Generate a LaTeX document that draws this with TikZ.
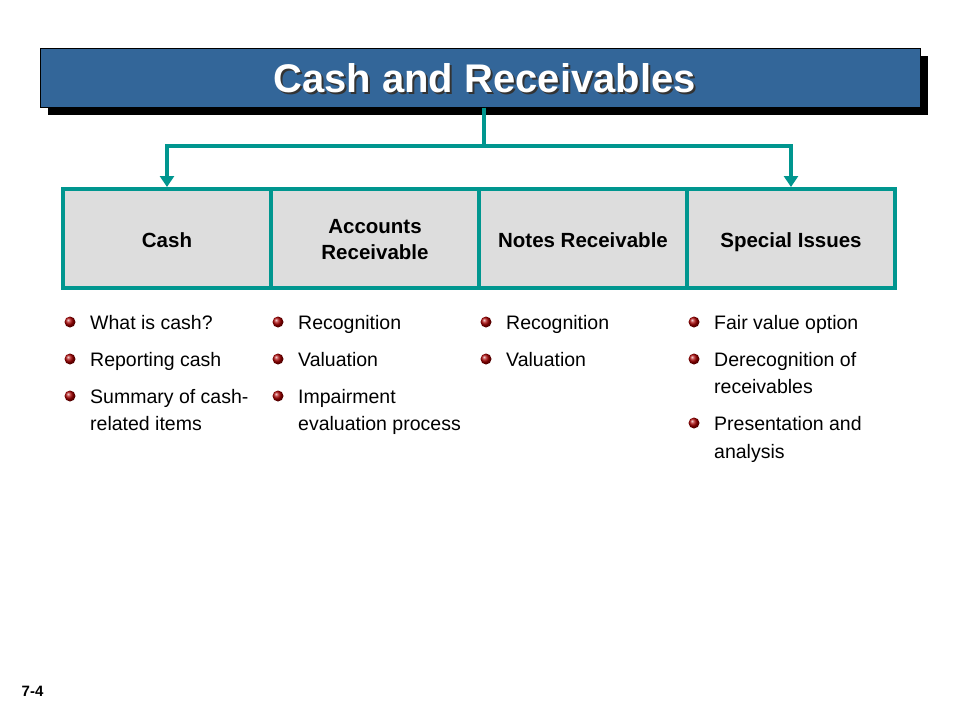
\documentclass[tikz,border=0pt]{standalone}
\usepackage{fontspec}
\setmainfont{Liberation Sans}
\usetikzlibrary{arrows.meta,shadings}
\definecolor{titleblue}{RGB}{51,102,153}
\definecolor{teal}{RGB}{0,150,143}
\definecolor{boxgray}{RGB}{221,221,221}
\definecolor{ballred}{RGB}{170,0,0}
\tikzset{
  catbox/.style={draw=teal,line width=4pt,fill=boxgray,minimum width=208pt,minimum height=99pt,inner sep=0pt,
    font=\fontsize{20.5}{25}\selectfont\bfseries,align=center,text=black,text height=22pt,text depth=4.5pt},
  conn/.style={draw=teal,line width=4pt},
  arr/.style={conn,-{Triangle[width=14pt,length=11pt]}},
  itemtext/.style={anchor=base west,inner sep=0pt,font=\fontsize{19.5}{27.5}\selectfont,text=black},
}
\newcommand\myball[2]{\shade[ball color=ballred] (#1,#2) circle (5.5);}
\begin{document}
\begin{tikzpicture}[x=1pt,y=-1pt]
\useasboundingbox[fill=white] (0,0) rectangle (960,720);
% title
\fill[black] (48,56) rectangle (928,115);
\node[draw=black,line width=1pt,fill=titleblue,minimum width=880pt,minimum height=59pt,inner sep=0pt] (title) at (480,77.5) {};
\node[text=black!80,font=\fontsize{40}{48}\selectfont\bfseries] at (486.5,80) {Cash and Receivables};
\node[text=white,font=\fontsize{40}{48}\selectfont\bfseries] (titletext) at (484.5,78) {Cash and Receivables};
% boxes
\node[catbox] (cash) at (167,238.5) {Cash};
\node[catbox,text height=47pt] (acc) at (375,238.5) {Accounts\\[1.5pt]Receivable};
\node[catbox] (notes) at (583,238.5) {Notes Receivable};
\node[catbox] (spec) at (791,238.5) {Special Issues};
% connectors
\coordinate (tp) at ([xshift=4pt]title.south);
\coordinate (mid) at ([yshift=-38pt]tp);
\draw[conn] (tp) -- (mid);
\draw[arr] (mid) -| (cash.north);
\draw[arr] (mid) -| (spec.north);
% column 1
\myball{70}{322}\node[itemtext] (c1a) at (90,329) {What is cash?};
\myball{70}{359}\node[itemtext] (c1b) at (90,366) {Reporting cash};
\myball{70}{396}\node[itemtext] (c1c) at (90,403) {Summary of cash-};
\node[itemtext] (c1d) at (90,430.5) {related items};
% column 2
\myball{278}{322}\node[itemtext] (c2a) at (298,329) {Recognition};
\myball{278}{359}\node[itemtext] (c2b) at (298,366) {Valuation};
\myball{278}{396}\node[itemtext] (c2c) at (298,403) {Impairment};
\node[itemtext] (c2d) at (298,430.5) {evaluation process};
% column 3
\myball{486}{322}\node[itemtext] (c3a) at (506,329) {Recognition};
\myball{486}{359}\node[itemtext] (c3b) at (506,366) {Valuation};
% column 4
\myball{694}{322}\node[itemtext] (c4a) at (714,329) {Fair value option};
\myball{694}{359}\node[itemtext] (c4b) at (714,366) {Derecognition of};
\node[itemtext] (c4c) at (714,393.5) {receivables};
\myball{694}{423}\node[itemtext] (c4d) at (714,430.5) {Presentation and};
\node[itemtext] (c4e) at (714,458) {analysis};
% page number
\node[anchor=base west,inner sep=0pt,font=\fontsize{15}{18}\selectfont\bfseries] (pg) at (21.5,696) {7-4};
\end{tikzpicture}
\end{document}
